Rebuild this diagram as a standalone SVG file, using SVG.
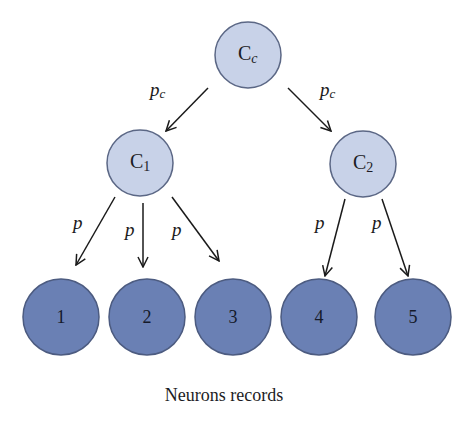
<svg xmlns="http://www.w3.org/2000/svg" width="474" height="424" viewBox="0 0 474 424">
<defs>
<style>
.cl{fill:#c8d2e8;stroke:#5b6785;stroke-width:1.5}
.dk{fill:#6a80b4;stroke:#4c5b80;stroke-width:1.5}
.t{font-family:"Liberation Serif",serif;fill:#1c1c24}
.lbl{font-family:"Liberation Serif",serif;font-style:italic;font-size:19px;fill:#1a1a1a}
.num{font-family:"Liberation Serif",serif;font-size:18px;fill:#151a2a;text-anchor:middle}
.ar{stroke:#1a1a1a;stroke-width:1.5;fill:none;marker-end:url(#ah)}
</style>
<marker id="ah" viewBox="0 0 12 12" refX="11" refY="6" markerWidth="12" markerHeight="12" markerUnits="userSpaceOnUse" orient="auto">
<path d="M1,1 L11,6 L1,11" fill="none" stroke="#1a1a1a" stroke-width="1.5"/>
</marker>
</defs>
<rect width="474" height="424" fill="#ffffff"/>
<g id="connectors">
<line class="ar" x1="208" y1="88" x2="166" y2="131"/>
<line class="ar" x1="288" y1="88" x2="331" y2="131"/>
<line class="ar" x1="115" y1="197" x2="76" y2="265"/>
<line class="ar" x1="143" y1="203" x2="143" y2="267"/>
<line class="ar" x1="172" y1="197" x2="219" y2="261"/>
<line class="ar" x1="345" y1="199" x2="325" y2="276"/>
<line class="ar" x1="382" y1="199" x2="408" y2="276"/>
<text class="lbl" x="150" y="96">p<tspan font-size="13" dy="2">c</tspan></text>
<text class="lbl" x="320" y="96">p<tspan font-size="13" dy="2">c</tspan></text>
<text class="lbl" x="73" y="229">p</text>
<text class="lbl" x="125" y="236">p</text>
<text class="lbl" x="172" y="236">p</text>
<text class="lbl" x="315" y="229">p</text>
<text class="lbl" x="372" y="229">p</text>
</g>
<g id="Cc">
<circle class="cl" cx="248" cy="55" r="33"/>
<text class="t" x="238" y="60" font-size="20">C<tspan font-size="14" font-style="italic" dy="3">c</tspan></text>
</g>
<g id="C1">
<circle class="cl" cx="140" cy="163" r="33"/>
<text class="t" x="130" y="168" font-size="20">C<tspan font-size="14" dy="3">1</tspan></text>
</g>
<g id="C2">
<circle class="cl" cx="363" cy="164" r="33"/>
<text class="t" x="353" y="169" font-size="20">C<tspan font-size="14" dy="3">2</tspan></text>
</g>
<g id="n1"><circle class="dk" cx="61" cy="317" r="38"/><text class="num" x="61" y="323">1</text></g>
<g id="n2"><circle class="dk" cx="147" cy="317" r="38"/><text class="num" x="147" y="323">2</text></g>
<g id="n3"><circle class="dk" cx="233" cy="317" r="38"/><text class="num" x="233" y="323">3</text></g>
<g id="n4"><circle class="dk" cx="319" cy="317" r="38"/><text class="num" x="319" y="323">4</text></g>
<g id="n5"><circle class="dk" cx="413" cy="317" r="38"/><text class="num" x="413" y="323">5</text></g>
<text class="t" x="224" y="401" font-size="18" text-anchor="middle">Neurons records</text>
</svg>
